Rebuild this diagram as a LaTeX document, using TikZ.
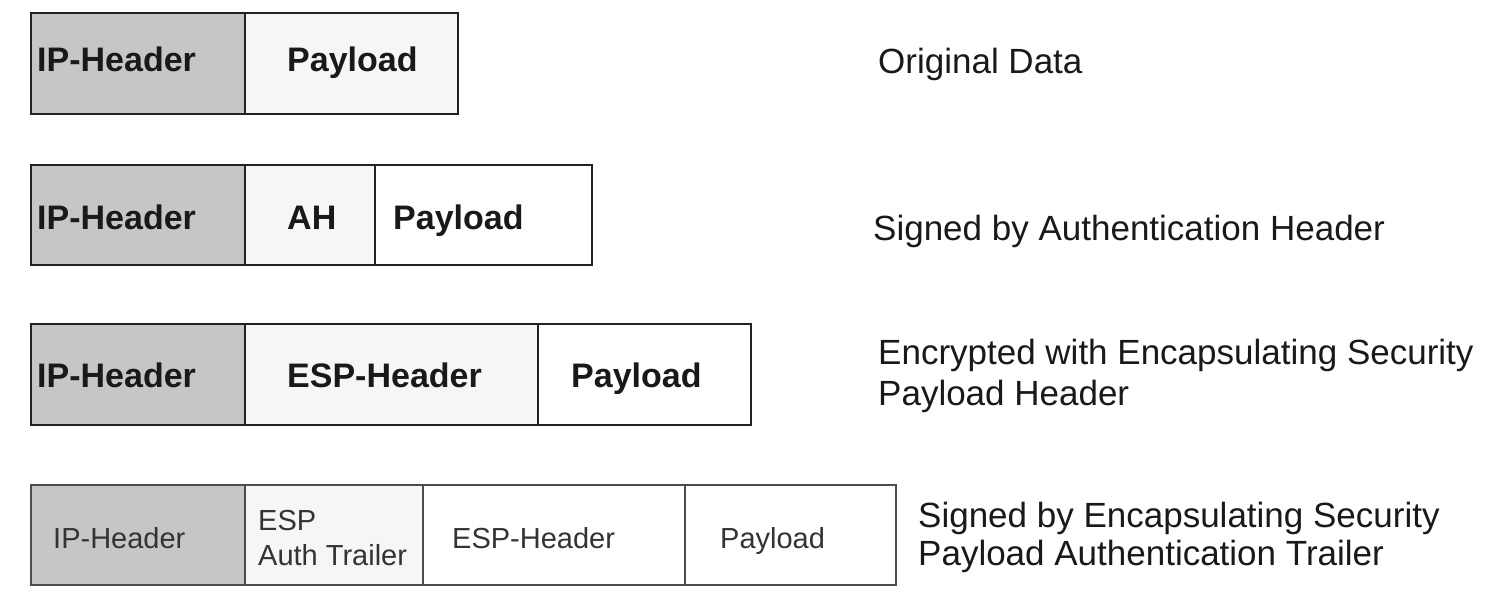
\documentclass[tikz,border=0pt]{standalone}
\usepackage{fontspec}
\setmainfont{Liberation Sans}
\usetikzlibrary{positioning}

\definecolor{ipgray}{RGB}{198,198,198}
\definecolor{lightfill}{RGB}{246,246,246}
\definecolor{edgeink}{RGB}{34,34,34}

\tikzset{
  cell/.style={draw=edgeink, line width=2pt, inner sep=0pt, outer sep=0pt, anchor=north west, minimum height=#1},
  boldtxt/.style={anchor=base west, inner sep=0pt, font=\fontsize{34}{40}\selectfont\bfseries, text=black!90},
  thintxt/.style={anchor=base west, inner sep=0pt, align=left, font=\fontsize{29}{35}\selectfont, text=black!80},
  notetxt/.style={anchor=base west, inner sep=0pt, align=left, font=\fontsize{35}{41}\selectfont, text=black!90}
}

\begin{document}
\begin{tikzpicture}[x=1pt, y=-1pt]
\useasboundingbox (0,0) rectangle (1495,599);
% original data
\node[cell=101, fill=ipgray, minimum width=214] (ip1) at (31,13) {};
\node[cell=101, fill=lightfill, minimum width=213] (pay1) at (ip1.north east) {};
\node[boldtxt] (ip1t) at (37,72) {IP-Header};
\node[boldtxt] (pay1t) at (287,72) {Payload};
\node[notetxt] (note1) at (878,74) {Original Data};
% authentication header
\node[cell=100, fill=ipgray, minimum width=214] (ip2) at (31,165) {};
\node[cell=100, fill=lightfill, minimum width=130] (ah2) at (ip2.north east) {};
\node[cell=100, fill=white, minimum width=217] (pay2) at (ah2.north east) {};
\node[boldtxt] (ip2t) at (37,229) {IP-Header};
\node[boldtxt] (ah2t) at (287,229) {AH};
\node[boldtxt] (pay2t) at (393,229) {Payload};
\node[notetxt] (note2) at (873,240) {Signed by Authentication Header};
% encapsulating security payload
\node[cell=101, fill=ipgray, minimum width=214] (ip3) at (31,324) {};
\node[cell=101, fill=lightfill, minimum width=293] (esp3) at (ip3.north east) {};
\node[cell=101, fill=white, minimum width=213] (pay3) at (esp3.north east) {};
\node[boldtxt] (ip3t) at (37,387) {IP-Header};
\node[boldtxt] (esp3t) at (287,387) {ESP-Header};
\node[boldtxt] (pay3t) at (571,387) {Payload};
\node[notetxt] (note3) at (878,405) {Encrypted with Encapsulating Security\\Payload Header};
% esp authentication trailer
\node[cell=100, draw=black!70, fill=ipgray, minimum width=214] (ip4) at (31,485) {};
\node[cell=100, draw=black!70, fill=lightfill, minimum width=178] (trl4) at (ip4.north east) {};
\node[cell=100, draw=black!70, fill=white, minimum width=262] (esp4) at (trl4.north east) {};
\node[cell=100, draw=black!70, fill=white, minimum width=211] (pay4) at (esp4.north east) {};
\node[thintxt] (ip4t) at (53,548) {IP-Header};
\node[thintxt] (trl4t) at (258,565) {ESP\\Auth Trailer};
\node[thintxt] (esp4t) at (452,548) {ESP-Header};
\node[thintxt] (pay4t) at (720,548) {Payload};
\node[notetxt, font=\fontsize{35}{38}\selectfont] (note4) at (918,565) {Signed by Encapsulating Security\\Payload Authentication Trailer};
\end{tikzpicture}
\end{document}
